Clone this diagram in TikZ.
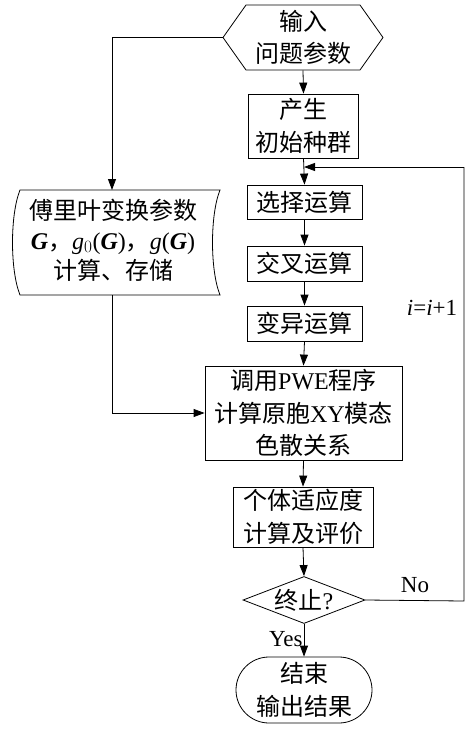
\documentclass[tikz,border=0pt]{standalone}
\usepackage{fontspec}
\setmainfont{Liberation Serif}
\newfontfamily\cjk{Noto Sans CJK SC}
\usetikzlibrary{arrows.meta,shapes.geometric}
\newcommand{\zh}[1]{{\cjk #1}}
\begin{document}
\begin{tikzpicture}[x=1pt,y=-1pt,
  line width=0.8pt,
  every node/.style={font=\fontsize{24}{32.5}\selectfont},
  boxstyle/.style={draw,rectangle,inner sep=0pt,align=center},
  arr/.style={-{Triangle[length=11pt,width=8pt]}},
  lbl/.style={font=\fontsize{23}{26}\selectfont}]
\useasboundingbox (0,0) rectangle (474,733);
% hexagon input
\draw (246,5) -- (360,5) -- (383,37.5) -- (360,70) -- (246,70) -- (223,37.5) -- cycle;
\node[align=center,inner sep=0pt,minimum width=160pt,minimum height=65pt] (hex) at (303,37.5) {\zh{输入}\\\zh{问题参数}};
\coordinate (hexL) at (223,37.5);
% boxes
\node[boxstyle,minimum width=110pt,minimum height=64pt] (init) at (303.5,126) {\zh{产生}\\\zh{初始种群}};
\node[boxstyle,minimum width=115pt,minimum height=34pt] (sel) at (304.5,202) {\zh{选择运算}};
\node[boxstyle,minimum width=115pt,minimum height=35pt] (cross) at (304.5,263.5) {\zh{交叉运算}};
\node[boxstyle,minimum width=115pt,minimum height=35pt] (mut) at (304.5,323.5) {\zh{变异运算}};
\node[boxstyle,minimum width=197pt,minimum height=94pt] (pwe) at (303.5,413) {\zh{调用}PWE\zh{程序}\\\zh{计算原胞}XY\zh{模态}\\\zh{色散关系}};
\node[boxstyle,minimum width=140pt,minimum height=60pt] (fit) at (303,517) {\zh{个体适应度}\\\zh{计算及评价}};
\node[draw,diamond,aspect=2.6,inner sep=0pt,minimum width=122pt,minimum height=47pt] (stop) at (304,600) {\zh{终止}?};
\node[draw,rectangle,rounded corners=33pt,inner sep=0pt,align=center,minimum width=136pt,minimum height=66pt] (end) at (304,690) {\zh{结束}\\\zh{输出结果}};
% fourier stored-data shape
\draw (20,190) -- (220,190) .. controls (210,215) and (210,270) .. (220,295) -- (20,295) .. controls (10,270) and (10,215) .. (20,190) -- cycle;
\node[align=center,inner sep=0pt,font=\fontsize{24}{30}\selectfont] (four) at (113,240) {\zh{傅里叶变换参数}\\\textbf{\textit{G}}\zh{，}\textit{g}$_0$(\textbf{\textit{G}})\zh{，}\textit{g}(\textbf{\textit{G}})\\\zh{计算、存储}};
\coordinate (fourT) at (112,190);
\coordinate (fourB) at (112,295);
% connectors
\draw[arr] (hex.south) -- (init.north);
\draw[arr] (init.south) -- (sel.north);
\draw[arr] (sel.south) -- (cross.north);
\draw[arr] (cross.south) -- (mut.north);
\draw[arr] (mut.south) -- (pwe.north);
\draw[arr] (pwe.south) -- (fit.north);
\draw[arr] (fit.south) -- (stop.north);
\draw[arr] (stop.south) -- node[lbl,left,pos=0.45,inner sep=1pt] {Yes} (end.north);
\draw[arr] (hexL) -| (fourT);
\draw[arr] (fourB) |- (pwe.west);
\coordinate (loopA) at (464,601);
\coordinate (loopB) at (464,167);
\coordinate (loopC) at (304,167);
\draw (stop.east) -- (loopA) -- (loopB);
\draw[arr] (loopB) -- (loopC);
\node[lbl] (no) at (415,585) {No};
\node[lbl] (inc) at (432,308) {\textit{i}=\textit{i}+1};
\end{tikzpicture}
\end{document}
